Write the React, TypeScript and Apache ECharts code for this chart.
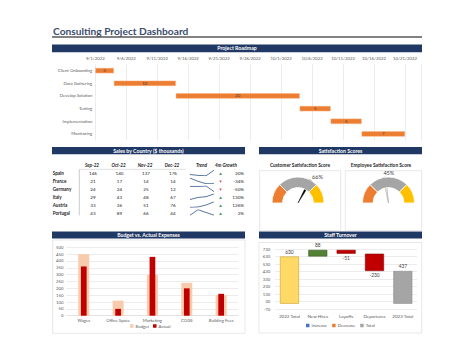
import React, { useEffect, useRef } from 'react';
import * as echarts from 'echarts';

const FONT = 'Lato, "Liberation Sans", sans-serif';

// ---------- Data ----------
const taskNames = ['Client Onboarding', 'Data Gathering', 'Develop Solution', 'Testing', 'Implementation', 'Monitoring'];
const taskStarts = ['9/1/2022', '9/4/2022', '9/14/2022', '10/4/2022', '10/9/2022', '10/14/2022'];
const taskDuration = [3, 10, 20, 5, 5, 7];

const months = ['Sep-22', 'Oct-22', 'Nov-22', 'Dec-22'];
const countries = ['Spain', 'France', 'Germany', 'Italy', 'Austria', 'Portugal'];
const salesSep = [146, 21, 24, 29, 33, 43];
const salesOct = [140, 17, 24, 43, 36, 89];
const salesNov = [137, 14, 25, 48, 51, 66];
const salesDec = [176, 14, 12, 67, 76, 44];
const growthLabels = ['20%', '-34%', '-50%', '130%', '126%', '2%'];

const gaugeTitles = ['Customer Satisfaction Score', 'Employee Satisfaction Score'];
const gaugeValues = [66, 45];
const gaugeBands = [25, 50, 25];

const expenseCats = ['Wages', 'Office Space', 'Marketing', 'COGS', 'Building Fees'];
const budgetVals = [450, 110, 300, 240, 150];
const actualVals = [360, 50, 430, 200, 160];

const turnoverCats = ['2022 Total', 'New Hires', 'Layoffs', 'Departures', '2023 Total'];
const turnoverVals = [630, 88, -51, -230, 437];
const turnoverIsTotal = [true, false, false, false, true];

// ---------- Helpers ----------
const DAY = 86400000;
function parseMDY(s: string) {
  const [m, d, y] = s.split('/').map(Number);
  return Date.UTC(y, m - 1, d);
}
const baseDate = parseMDY(taskStarts[0]);
function fmtDay(off: number) {
  const dt = new Date(baseDate + off * DAY);
  return `${dt.getUTCMonth() + 1}/${dt.getUTCDate()}/${dt.getUTCFullYear()}`;
}
const startOffsets = taskStarts.map((s) => (parseMDY(s) - baseDate) / DAY);

const NAVY = '#203864';
const GRID = '#D9D9D9';
const AX = '#595959';

function txt(x: number, y: number, text: string, o: any = {}) {
  return {
    type: 'text',
    x,
    y,
    silent: true,
    style: {
      text,
      fill: o.fill || '#262626',
      fontSize: o.size || 4.6,
      fontFamily: FONT,
      fontWeight: o.weight || 'normal',
      fontStyle: o.style || 'normal',
      align: o.align || 'left',
      verticalAlign: 'middle',
      textAlign: o.align || 'left',
      textVerticalAlign: 'middle',
    },
  };
}

function headerBar(x: number, y: number, w: number, h: number, label: string) {
  return [
    { type: 'rect', shape: { x, y, width: w, height: h }, style: { fill: NAVY }, silent: true },
    txt(x + w / 2, y + h / 2, label, { fill: '#FFFFFF', weight: 'bold', size: 5.2, align: 'center' }),
  ];
}

export default function App() {
  const ref = useRef<HTMLDivElement>(null);

  useEffect(() => {
    document.body.style.margin = '0';
    if (!ref.current) return;
    const chart = echarts.init(ref.current, undefined, { renderer: 'svg' });

    // waterfall computation
    const wfBase: number[] = [];
    const wfHeight: number[] = [];
    let running = 0;
    turnoverVals.forEach((v, i) => {
      if (turnoverIsTotal[i]) {
        wfBase.push(0);
        wfHeight.push(v);
        running = v;
      } else if (v >= 0) {
        wfBase.push(running);
        wfHeight.push(v);
        running += v;
      } else {
        wfBase.push(running + v);
        wfHeight.push(-v);
        running += v;
      }
    });
    const wfColors = turnoverVals.map((v, i) =>
      turnoverIsTotal[i] ? (i === 0 ? '#FFD966' : '#A5A5A5') : v >= 0 ? '#548235' : '#C00000'
    );
    const wfBorders = turnoverVals.map((v, i) =>
      turnoverIsTotal[i] ? (i === 0 ? '#C9A227' : '#8C8C8C') : v >= 0 ? '#3B5E25' : '#8B0000'
    );

    // table layout
    const colX = [92, 118.5, 145, 172];
    const rowY0 = 173;
    const rowStep = 7.9;
    const headerY = 165;
    const salesCols = [salesSep, salesOct, salesNov, salesDec];

    const graphics: any[] = [];
    graphics.push(txt(53, 30.5, 'Consulting Project Dashboard', { fill: '#3A4B6B', weight: 'bold', size: 10.2 }));
    graphics.push({ type: 'line', shape: { x1: 52, y1: 37, x2: 422, y2: 37 }, style: { stroke: '#595959', lineWidth: 1.3 }, silent: true });
    graphics.push(...headerBar(52, 44.5, 370, 7.8, 'Project Roadmap'));
    graphics.push(...headerBar(52, 147, 193, 7.3, 'Sales by Country ($ thousands)'));
    graphics.push(...headerBar(259, 147, 163, 7.3, 'Satisfaction Scores'));
    graphics.push(...headerBar(52, 231.5, 193, 7, 'Budget vs. Actual Expenses'));
    graphics.push(...headerBar(259, 231.5, 163, 7, 'Staff Turnover'));

    // table
    months.forEach((m, j) => graphics.push(txt(colX[j], headerY, m, { weight: 'bold', style: 'italic', align: 'center', size: 4.6 })));
    graphics.push(txt(201.5, headerY, 'Trend', { weight: 'bold', style: 'italic', align: 'center', size: 4.6 }));
    graphics.push(txt(226, headerY, '4m Growth', { weight: 'bold', style: 'italic', align: 'center', size: 4.6 }));
    graphics.push({ type: 'line', shape: { x1: 79.3, y1: 169.3, x2: 79.3, y2: 215.5 }, style: { stroke: '#A6A6A6', lineWidth: 0.6 }, silent: true });
    graphics.push({ type: 'line', shape: { x1: 79.3, y1: 169.3, x2: 186, y2: 169.3 }, style: { stroke: '#BFBFBF', lineWidth: 0.5 }, silent: true });
    countries.forEach((c, i) => {
      const y = rowY0 + i * rowStep;
      graphics.push(txt(52.7, y, c, { weight: 'bold', size: 4.6 }));
      salesCols.forEach((col, j) => graphics.push(txt(colX[j] + 1, y, String(col[i]), { align: 'center', size: 4.6 })));
      const up = salesDec[i] >= salesSep[i];
      graphics.push(txt(220.5, y, up ? '▲' : '▼', { fill: up ? '#4E9A5E' : '#E0606A', align: 'center', size: 4.6 }));
      graphics.push(txt(244, y, growthLabels[i], { align: 'right', size: 4.6 }));
    });

    // gauge titles & boxes
    graphics.push(txt(300, 165, gaugeTitles[0], { weight: 'bold', align: 'center', size: 4.8 }));
    graphics.push(txt(381, 165, gaugeTitles[1], { weight: 'bold', align: 'center', size: 4.8 }));
    graphics.push({ type: 'rect', shape: { x: 259.7, y: 170.7, width: 81, height: 60 }, style: { fill: 'none', stroke: GRID, lineWidth: 0.6 }, silent: true });
    graphics.push({ type: 'rect', shape: { x: 345.3, y: 170.7, width: 76.4, height: 60 }, style: { fill: 'none', stroke: GRID, lineWidth: 0.6 }, silent: true });
    // chart boxes
    graphics.push({ type: 'rect', shape: { x: 52.7, y: 240, width: 192.3, height: 93.3 }, style: { fill: 'none', stroke: GRID, lineWidth: 0.6 }, silent: true });
    graphics.push({ type: 'rect', shape: { x: 259, y: 242.5, width: 162.7, height: 90.5 }, style: { fill: 'none', stroke: GRID, lineWidth: 0.6 }, silent: true });

    const axisFont = { fontFamily: FONT, fontSize: 4.3, color: AX };

    const grids: any[] = [
      { left: 95.3, top: 64.3, width: 326.4, height: 76 },
      { left: 66.6, top: 247.3, width: 171.7, height: 68.4 },
      { left: 275.3, top: 249, width: 141.7, height: 60 },
    ];
    const xAxes: any[] = [
      {
        gridIndex: 0, type: 'value', position: 'top', min: 0, max: 52.7, interval: 5,
        axisLine: { show: false }, axisTick: { show: false },
        splitLine: { lineStyle: { color: GRID, width: 0.5 } },
        axisLabel: { ...axisFont, margin: 4, formatter: (v: number) => (Math.abs(v % 5) < 1e-6 ? fmtDay(v) : '') },
      },
      {
        gridIndex: 1, type: 'category', data: expenseCats,
        axisLine: { lineStyle: { color: GRID, width: 0.5 } }, axisTick: { show: false },
        axisLabel: { ...axisFont, margin: 3, interval: 0 },
      },
      { gridIndex: 1, type: 'category', data: expenseCats, show: false },
      {
        gridIndex: 2, type: 'category', data: turnoverCats,
        axisLine: { show: false }, axisTick: { show: false },
        axisLabel: { ...axisFont, fontSize: 4.5, margin: 5, interval: 0 },
      },
    ];
    const yAxes: any[] = [
      {
        gridIndex: 0, type: 'category', data: taskNames, inverse: true,
        axisLine: { show: false }, axisTick: { show: false },
        axisLabel: { ...axisFont, margin: 3 },
      },
      {
        gridIndex: 1, type: 'value', min: 0, max: 500, interval: 50,
        axisLine: { show: false }, axisTick: { show: false },
        splitLine: { lineStyle: { color: GRID, width: 0.5 } },
        axisLabel: { ...axisFont, margin: 3 },
      },
      {
        gridIndex: 2, type: 'value', min: -70, max: 730, interval: 100,
        axisLine: { show: false }, axisTick: { show: false },
        splitLine: { lineStyle: { color: GRID, width: 0.5 } },
        axisLabel: { ...axisFont, margin: 5 },
      },
    ];

    const series: any[] = [
      // Gantt
      {
        type: 'bar', xAxisIndex: 0, yAxisIndex: 0, stack: 'g', data: startOffsets, barWidth: 5.3,
        itemStyle: { color: 'rgba(0,0,0,0)' }, silent: true,
      },
      {
        type: 'bar', xAxisIndex: 0, yAxisIndex: 0, stack: 'g', data: taskDuration, barWidth: 5.3,
        itemStyle: { color: '#ED7D31', borderColor: '#F4B183', borderWidth: 0.5 },
        label: { show: true, position: 'inside', fontFamily: FONT, fontSize: 4.3, color: '#404040' },
      },
      // Budget vs actual
      {
        name: 'Budget', type: 'bar', xAxisIndex: 1, yAxisIndex: 1, data: budgetVals, barWidth: 11,
        itemStyle: { color: '#F8CBAD' },
      },
      {
        name: 'Actual', type: 'bar', xAxisIndex: 2, yAxisIndex: 1, data: actualVals, barWidth: 5.7,
        itemStyle: { color: '#C00000' },
      },
      // Waterfall
      {
        type: 'bar', xAxisIndex: 3, yAxisIndex: 2, stack: 'w', data: wfBase, barWidth: 19,
        itemStyle: { color: 'rgba(0,0,0,0)' }, silent: true,
      },
      {
        type: 'bar', xAxisIndex: 3, yAxisIndex: 2, stack: 'w', barWidth: 19,
        data: wfHeight.map((h, i) => ({
          value: h,
          itemStyle: { color: wfColors[i], borderColor: wfBorders[i], borderWidth: 0.6 },
          label: { position: turnoverVals[i] < 0 ? 'bottom' : 'top' },
        })),
        label: {
          show: true, fontFamily: FONT, fontSize: 4.8, color: '#404040', distance: 2,
          formatter: (p: any) => String(turnoverVals[p.dataIndex]),
        },
      },
      { name: 'Increase', type: 'bar', xAxisIndex: 3, yAxisIndex: 2, stack: 'w', data: [], itemStyle: { color: '#4472C4' } },
      { name: 'Decrease', type: 'bar', xAxisIndex: 3, yAxisIndex: 2, stack: 'w', data: [], itemStyle: { color: '#ED7D31' } },
      { name: 'Total', type: 'bar', xAxisIndex: 3, yAxisIndex: 2, stack: 'w', data: [], itemStyle: { color: '#A5A5A5' } },
    ];

    // Sparklines
    countries.forEach((_, i) => {
      const y = rowY0 + i * rowStep;
      grids.push({ left: 190, top: y - 2.8, width: 24, height: 5.6 });
      xAxes.push({ gridIndex: grids.length - 1, type: 'category', data: months, boundaryGap: false, show: false });
      yAxes.push({ gridIndex: grids.length - 1, type: 'value', min: 'dataMin', max: 'dataMax', scale: true, show: false });
      series.push({
        type: 'line', xAxisIndex: xAxes.length - 1, yAxisIndex: yAxes.length - 1,
        data: salesCols.map((col) => col[i]), symbol: 'none',
        lineStyle: { width: 0.8, color: '#2E5187' }, silent: true,
      });
    });

    // Gauges
    const gaugeCenters = [[298, 203], [388.5, 203]];
    const bandColors = ['#ED7D31', '#A5A5A5', '#FFC000'];
    const needleFill = ['#000000', '#F2F2F2'];
    const needleBorder = ['#000000', '#7F7F7F'];
    gaugeValues.forEach((v, g) => {
      const total = gaugeBands.reduce((a, b) => a + b, 0);
      series.push({
        type: 'pie', center: gaugeCenters[g], radius: [15.5, 26], startAngle: 180, clockwise: true,
        silent: true, label: { show: false }, labelLine: { show: false },
        emphasis: { disabled: true },
        data: [
          ...gaugeBands.map((b, k) => ({ value: b, itemStyle: { color: bandColors[k], borderColor: '#fff', borderWidth: 0.8 } })),
          { value: total, itemStyle: { color: 'rgba(0,0,0,0)', borderWidth: 0 } },
        ],
      });
      const th = ((180 - (v / 100) * 180) * Math.PI) / 180;
      series.push({
        type: 'gauge', center: gaugeCenters[g], radius: 26, startAngle: 180, endAngle: 0, min: 0, max: 100,
        axisLine: { show: false }, splitLine: { show: false }, axisTick: { show: false }, axisLabel: { show: false },
        anchor: { show: false }, title: { show: false },
        pointer: {
          show: true, icon: 'path://M0,0 L10,0 L5,100 Z', length: '100%', width: 3,
          itemStyle: { color: needleFill[g], borderColor: needleBorder[g], borderWidth: 0.4 },
        },
        detail: {
          show: true, formatter: '{value}%', fontFamily: FONT, fontSize: 5.5, color: '#404040', fontWeight: 'normal',
          offsetCenter: [30 * Math.cos(th) + 5, -30 * Math.sin(th)],
        },
        data: [{ value: v }],
      });
    });

    const option: any = {
      animation: false,
      textStyle: { fontFamily: FONT },
      grid: grids,
      xAxis: xAxes,
      yAxis: yAxes,
      legend: [
        {
          data: ['Budget', 'Actual'], left: 130, top: 324, itemWidth: 3.5, itemHeight: 3.5, itemGap: 4,
          icon: 'rect', padding: 0, textStyle: { fontFamily: FONT, fontSize: 4.3, color: AX, padding: [0, 0, 0, -3] },
        },
        {
          data: ['Increase', 'Decrease', 'Total'], left: 306, top: 323.5, itemWidth: 3.5, itemHeight: 3.5, itemGap: 5,
          icon: 'rect', padding: 0, textStyle: { fontFamily: FONT, fontSize: 4.3, color: AX, padding: [0, 0, 0, -3] },
        },
      ],
      series,
      graphic: { elements: graphics },
    };
    chart.setOption(option);
    return () => chart.dispose();
  }, []);

  return <div ref={ref} style={{ width: 474, height: 355 }} />;
}
